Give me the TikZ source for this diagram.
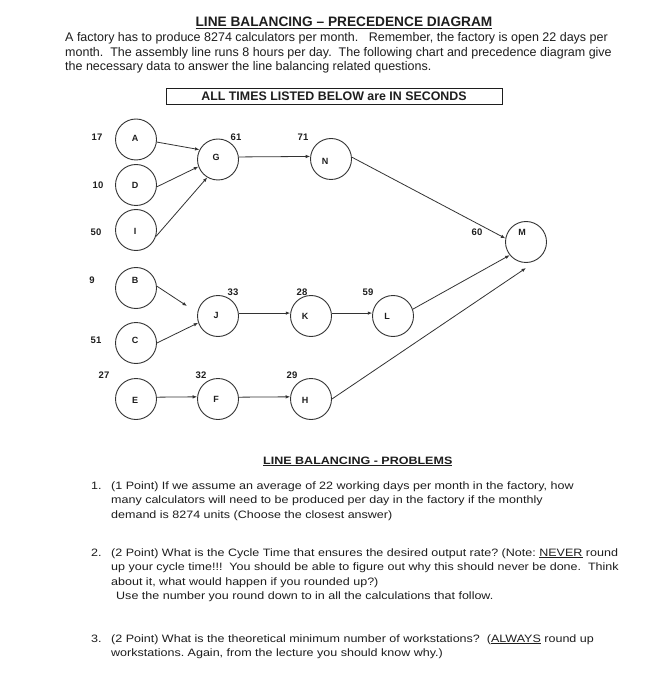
\documentclass[tikz,border=0pt]{standalone}
\usepackage{fontspec}
\setmainfont{Liberation Sans}
\newfontfamily\probfont[FakeStretch=1.17]{Liberation Sans}
\usetikzlibrary{arrows.meta}
\definecolor{dk}{HTML}{333333}
\definecolor{txt}{HTML}{1E1E1E}
\frenchspacing
\begin{document}
\begin{tikzpicture}[x=1pt,y=-1pt,
  task/.style={circle, draw=dk, line width=0.9pt, minimum size=41pt, inner sep=0pt},
  lett/.style={font=\fontsize{9}{9}\selectfont\bfseries, inner sep=0pt, text=txt},
  num/.style={font=\fontsize{9.5}{9.5}\selectfont\bfseries, inner sep=0pt, text=txt},
  arr/.style={draw=dk, line width=0.8pt, -{Latex[length=4.5pt,width=3.5pt]}},
  para/.style={anchor=base west, inner sep=0pt, text=txt, font=\fontsize{12.5}{14.5}\selectfont},
  prob/.style={anchor=base west, inner sep=0pt, text=txt, font=\probfont\fontsize{10.7}{12}\selectfont},
]
\useasboundingbox[fill=white] (0,0) rectangle (657,700);

% header
\node[anchor=base, inner sep=0pt, text=txt, font=\fontsize{13.7}{16}\selectfont\bfseries] (title) at (344,27) {\underline{LINE BALANCING – PRECEDENCE DIAGRAM}};
\node[para] (p1) at (65,42) {A factory has to produce 8274 calculators per month.\ \ \ Remember, the factory is open 22 days per};
\node[para] (p2) at (65,56.5) {month.\ \ The assembly line runs 8 hours per day.\ \ The following chart and precedence diagram give};
\node[para] (p3) at (65,71) {the necessary data to answer the line balancing related questions.};
\node[draw=txt, line width=0.8pt, minimum width=336pt, minimum height=16pt, inner sep=0pt, text=txt, font=\fontsize{12.4}{14}\selectfont\bfseries] (units) at (334,96) {ALL TIMES LISTED BELOW are IN SECONDS};

% task circles
\node[task] (A) at (136,139.5) {};
\node[task] (D) at (136,185) {};
\node[task] (I) at (136,230) {};
\node[task] (G) at (218,159.5) {};
\node[task] (N) at (331,159) {};
\node[task] (M) at (526,242) {};
\node[task] (B) at (136,288) {};
\node[task] (C) at (136,343) {};
\node[task] (J) at (218,316) {};
\node[task] (K) at (311,316) {};
\node[task] (L) at (393,316) {};
\node[task] (E) at (136,399) {};
\node[task] (F) at (218,399) {};
\node[task] (H) at (311,399) {};

% letters
\node[lett] (lA) at (135,138.5) {A};
\node[lett] (lD) at (135,185) {D};
\node[lett] (lI) at (135,231) {I};
\node[lett] (lG) at (216,157.5) {G};
\node[lett] (lN) at (325,161.5) {N};
\node[lett] (lM) at (522,232) {M};
\node[lett] (lB) at (135,280) {B};
\node[lett] (lC) at (135,340) {C};
\node[lett] (lJ) at (216,315) {J};
\node[lett] (lK) at (305,316) {K};
\node[lett] (lL) at (387,316) {L};
\node[lett] (lE) at (135,400) {E};
\node[lett] (lF) at (216,399) {F};
\node[lett] (lH) at (305,400) {H};

% times
\node[num] (t17) at (97,137) {17};
\node[num] (t10) at (98,185) {10};
\node[num] (t50) at (96,232) {50};
\node[num] (t61) at (236,137) {61};
\node[num] (t71) at (303,137) {71};
\node[num] (t60) at (477,232) {60};
\node[num] (t9) at (92,280) {9};
\node[num] (t51) at (96,340) {51};
\node[num] (t33) at (233,292) {33};
\node[num] (t28) at (302,292) {28};
\node[num] (t59) at (368,292) {59};
\node[num] (t27) at (104,375) {27};
\node[num] (t32) at (201,375) {32};
\node[num] (t29) at (292,375) {29};

% free ends
\coordinate (bj) at (187,306);
\coordinate (hm) at (526,268);

% connectors
\draw[arr] (A.-7) -- (G.152);
\draw[arr] (D.-5) -- (G.200);
\draw[arr] (I.-18) -- (G.239);
\draw[arr] (G.7) -- (N.173);
\draw[arr] (N.5) -- (M.170);
\draw[arr] (B.5) -- (bj);
\draw[arr] (C.0) -- (J.199);
\draw[arr] (J.8) -- (K.172);
\draw[arr] (K.8) -- (L.172);
\draw[arr] (L.19) -- (M.219);
\draw[arr] (E.5) -- (F.174);
\draw[arr] (F.5) -- (H.174);
\draw[arr] (H.0) -- (hm);

% problems
\node[anchor=base west, inner sep=0pt, text=txt, font=\probfont\fontsize{10.7}{12}\selectfont\bfseries] (ptitle) at (263,464) {\underline{LINE BALANCING - PROBLEMS}};

\node[prob] (n1) at (91,489) {1.};
\node[prob] (q1a) at (111,489) {(1 Point) If we assume an average of 22 working days per month in the factory, how};
\node[prob] (q1b) at (111,503.5) {many calculators will need to be produced per day in the factory if the monthly};
\node[prob] (q1c) at (111,518) {demand is 8274 units (Choose the closest answer)};

\node[prob] (n2) at (91,556) {2.};
\node[prob] (q2a) at (111,556) {(2 Point) What is the Cycle Time that ensures the desired output rate? (Note: \underline{NEVER} round};
\node[prob] (q2b) at (111,570.5) {up your cycle time!!!\ \ You should be able to figure out why this should never be done.\ \ Think};
\node[prob] (q2c) at (111,585) {about it, what would happen if you rounded up?)};
\node[prob] (q2d) at (116,599.5) {Use the number you round down to in all the calculations that follow.};

\node[prob] (n3) at (91,642) {3.};
\node[prob] (q3a) at (111,642) {(2 Point) What is the theoretical minimum number of workstations?\ \ (\underline{ALWAYS} round up};
\node[prob] (q3b) at (111,656.5) {workstations. Again, from the lecture you should know why.)};
\end{tikzpicture}
\end{document}
